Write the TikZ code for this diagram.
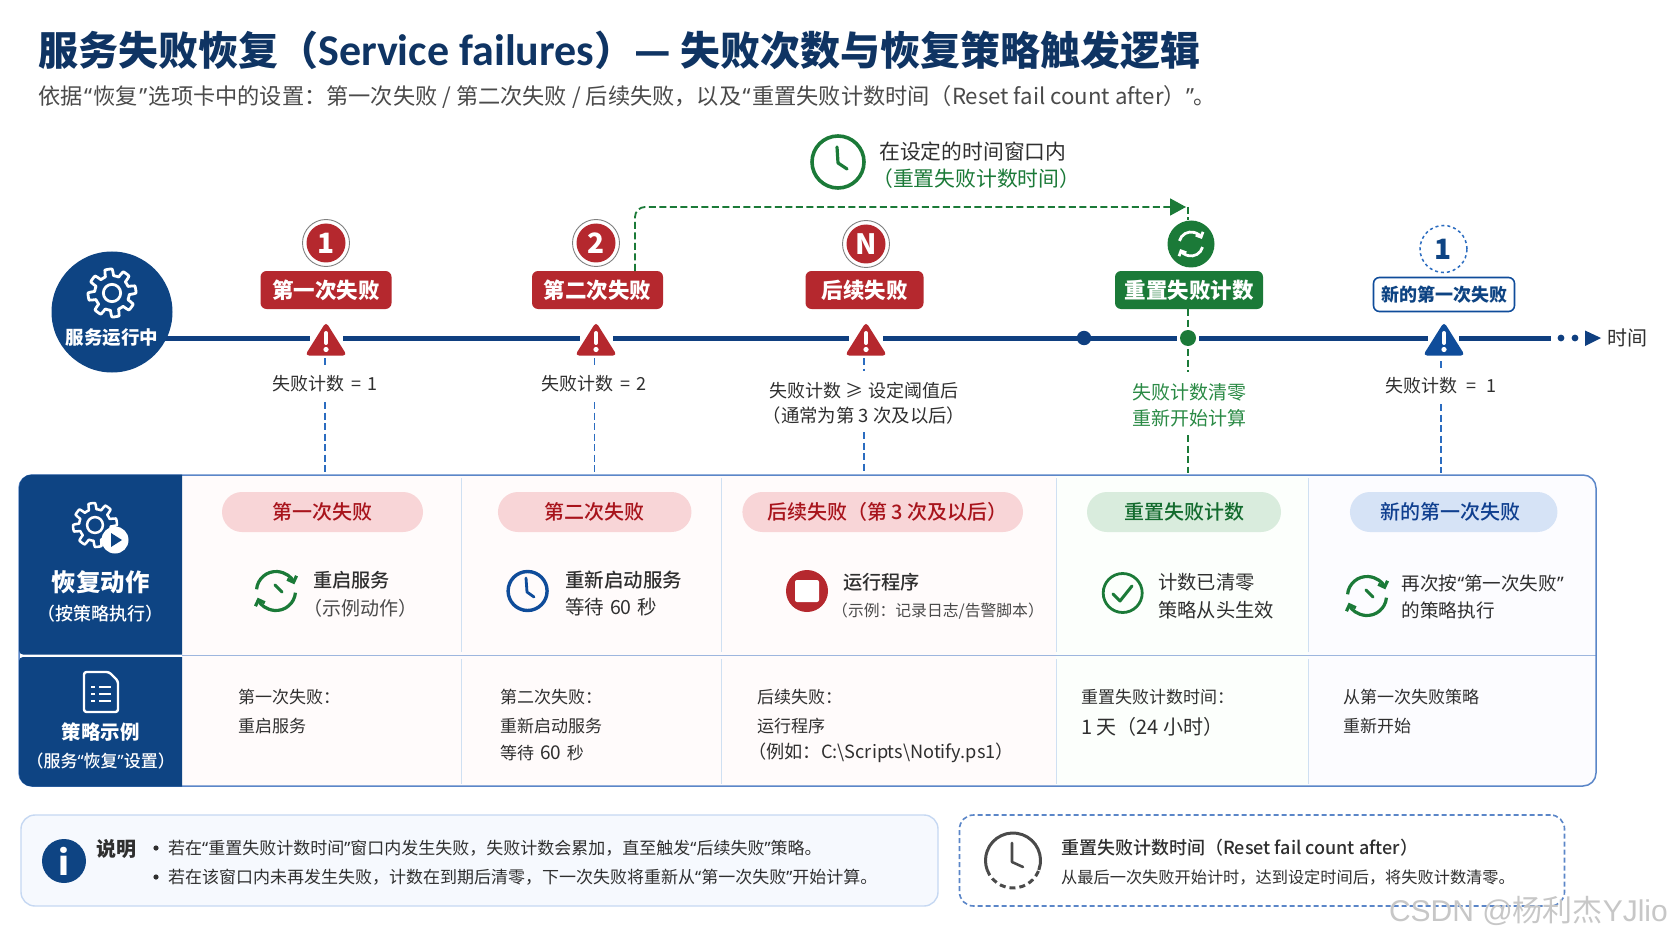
\documentclass[tikz,border=0pt]{standalone}
\usepackage{fontspec}
\setmainfont{Noto Sans CJK SC}
\newfontfamily\medf{Noto Sans CJK SC Medium}
\newfontfamily\qf{Noto Sans}
\newfontfamily\wmf{Liberation Sans}
\newfontfamily\crl{Carlito}
\usetikzlibrary{arrows.meta,calc}
\definecolor{navy}{HTML}{0E4483}
\definecolor{titlec}{HTML}{0F3463}
\definecolor{tlc}{HTML}{0F3F80}
\definecolor{redc}{HTML}{B5282E}
\definecolor{grn}{HTML}{1B7A38}
\definecolor{grnt}{HTML}{2A8A45}
\definecolor{blu}{HTML}{0F4C9A}
\definecolor{dashc}{HTML}{2B6CC0}
\definecolor{ink}{HTML}{2F2F2F}
\definecolor{soft}{HTML}{4A4A4A}
\definecolor{sepc}{HTML}{CFE0F2}
\definecolor{bord}{HTML}{5B86C8}
\definecolor{noteb}{HTML}{C6D8F2}
\definecolor{notef}{HTML}{F6F9FE}
\definecolor{pillr}{HTML}{F8D5D7}
\definecolor{pillg}{HTML}{D9ECDD}
\definecolor{pillb}{HTML}{D6E3F6}
\definecolor{pilltr}{HTML}{A8141C}
\definecolor{pilltg}{HTML}{136B2E}
\definecolor{pilltb}{HTML}{0F3F8F}
\newcommand\fz[1]{\fontsize{#1}{#1}\selectfont}
\newcommand\qa{{\qf “}}
\newcommand\qb{{\qf ”}}
\tikzset{
  tw/.style={anchor=west,inner sep=0pt,text=ink},
  tc/.style={anchor=center,inner sep=0pt,text=ink},
  tl/.style={line width=5pt,tlc},
  vdash/.style={line width=1.6pt,dashc,dash pattern=on 7pt off 3.5pt},
  gdash/.style={line width=1.8pt,grn,dash pattern=on 7pt off 3.5pt},
  numc/.style={circle,fill=redc,minimum size=39pt,inner sep=0pt,text=white,font=\fz{28}\bfseries},
  evbox/.style={rounded corners=6pt,fill=redc,minimum height=38pt,inner sep=0pt,text=white,font=\fz{21.5}\bfseries},
  pill/.style={rounded corners=20pt,minimum height=40pt,inner sep=0pt,font=\fz{20}\medf},
  sep/.style={line width=1pt,sepc},
}
\newcommand\warn[3]{% x, apex y, colour
  \fill[#3,rounded corners=4pt] (#1,-#2-2) -- (#1+21,-355.5) -- (#1-21,-355.5) -- cycle;
  \draw[white,line width=4pt,line cap=round] (#1,-333) -- (#1,-343);
  \fill[white] (#1,-349.5) circle[radius=2.6];
}
\newcommand\gear[5]{% x,y,r,lw,colour
  \draw[#5,line width=#4,line join=round] plot[domain=0:360,samples=289,variable=\t]
   ({#1+#3*(0.86+0.14*max(min(3*sin(8*\t+22.5*8/8),1),-1))*cos(\t)},{#2+#3*(0.86+0.14*max(min(3*sin(8*\t+22.5*8/8),1),-1))*sin(\t)}) -- cycle;
  \draw[#5,line width=#4] (#1,#2) circle[radius=0.36*#3];
}
\newcommand\syncicon[4]{% x,y,r,colour
  \draw[#4,line width=3.2pt,-{Straight Barb[length=5pt,width=10pt]}] ($(#1,#2)+(175:#3)$) arc[start angle=175,end angle=20,radius=#3];
  \draw[#4,line width=3.2pt,-{Straight Barb[length=5pt,width=10pt]}] ($(#1,#2)+(-5:#3)$) arc[start angle=-5,end angle=-160,radius=#3];
}
\begin{document}
\begin{tikzpicture}[x=1pt,y=1pt]
\useasboundingbox (0,0) rectangle (1672,-941);
\fill[white] (0,0) rectangle (1672,-941);
% title
\node[tw,text=titlec,font=\fz{40}\bfseries] (title) at (38,-50) {服务失败恢复（{\fz{44}\crl Service failures}）— 失败次数与恢复策略触发逻辑};
\node[tw,text=soft,font=\fz{22.2}] (sub) at (38,-97) {依据\kern1.5pt\qa\kern1.5pt 恢复\kern1.5pt\qb\kern1.5pt 选项卡中的设置：第一次失败 / 第二次失败 / 后续失败，以及\kern1.5pt\qa\kern1.5pt 重置失败计数时间（Reset fail count after）\qb 。};
% top clock
\node[circle,draw=grn,line width=3.6pt,minimum size=52pt,inner sep=0pt] (topclock) at (838,-162) {};
\draw[grn,line width=3.2pt,line cap=round,line join=round] (837,-147) -- (838,-163) -- (847,-169);
\node[tw,font=\fz{20.8}] (wintxt) at (879,-152) {在设定的时间窗口内};
\node[tw,text=grn,font=\fz{20.8}] (wintxt2) at (872,-179) {（重置失败计数时间）};
% timeline coordinates
\coordinate (a0) at (165,-338); \coordinate (a1) at (310,-338);
\coordinate (b0) at (343,-338); \coordinate (b1) at (580,-338);
\coordinate (c0) at (613,-338); \coordinate (c1) at (849,-338);
\coordinate (d0) at (883,-338); \coordinate (d1) at (1177,-338);
\coordinate (e0) at (1199,-338); \coordinate (e1) at (1428,-338);
\coordinate (f0) at (1459,-338); \coordinate (f1) at (1551,-338);
\draw[tl] (a0)--(a1); \draw[tl] (b0)--(b1); \draw[tl] (c0)--(c1); \draw[tl] (d0)--(d1); \draw[tl] (e0)--(e1); \draw[tl] (f0)--(f1);
\fill[tlc] (1084,-338) circle[radius=7.2];
\fill[grn] (1188,-338) circle[radius=8];
\fill[tlc] (1561,-338) circle[radius=3.4];
\fill[tlc] (1575,-338) circle[radius=3.4];
\fill[tlc] (1585,-330.5) -- (1601,-338) -- (1585,-346) -- cycle;
\node[tw,font=\fz{20}] (timetxt) at (1607,-338) {时间};
% service node
\node[circle,fill=navy,minimum size=121pt,inner sep=0pt] (svc) at (112,-312) {};
\gear{112}{-293}{24}{2.8pt}{white}
\node[tc,text=white,font=\fz{18.5}\bfseries] (svctxt) at (112,-338) {服务运行中};
% event numbers
\node[numc] (n1) at (326,-243) {1}; \draw[gray,line width=.9pt] (n1.center) circle[radius=23.5];
\node[numc] (n2) at (596,-243) {2}; \draw[gray,line width=.9pt] (n2.center) circle[radius=23.5];
\node[numc] (n3) at (866,-244) {N}; \draw[gray,line width=.9pt] (n3.center) circle[radius=23.5];
\node[circle,fill=grn,minimum size=47pt,inner sep=0pt] (n4) at (1191,-244) {};
\draw[white,line width=2.8pt,-{Straight Barb[length=4pt,width=8pt]}] ($(n4.center)+(165:12)$) arc[start angle=165,end angle=25,radius=12];
\draw[white,line width=2.8pt,-{Straight Barb[length=4pt,width=8pt]}] ($(n4.center)+(-15:12)$) arc[start angle=-15,end angle=-155,radius=12];
\node[circle,draw=dashc,dashed,line width=1.5pt,minimum size=47pt,inner sep=0pt,text=navy,font=\fz{28}\bfseries] (n5) at (1443.5,-249) {1};
% event boxes
\node[evbox,minimum width=131pt] (lb1) at (326,-290) {第一次失败};
\node[evbox,minimum width=131pt] (lb2) at (597.5,-290) {第二次失败};
\node[evbox,minimum width=118pt] (lb3) at (864.5,-290) {后续失败};
\node[evbox,minimum width=148pt,fill=grn] (lb4) at (1189,-290) {重置失败计数};
\node[rounded corners=6pt,fill=white,draw=blu,line width=1.6pt,minimum width=141pt,minimum height=34pt,inner sep=0pt,text=navy,font=\fz{18}\bfseries] (lb5) at (1444,-294.5) {新的第一次失败};
% warnings
\warn{326}{320}{redc}
\warn{596}{320}{redc}
\warn{866}{320}{redc}
\warn{1444}{320}{blu}
% counter labels
\node[tc,font=\fz{18}] (cnt1) at (325,-384) {失败计数\kern2pt{} = \kern2pt{}1};
\node[tc,font=\fz{18}] (cnt2) at (594,-384) {失败计数\kern2pt{} = \kern2pt{}2};
\node[tc,font=\fz{18}] (cnt3a) at (864,-391) {失败计数 ≥ 设定阈值后};
\node[tc,font=\fz{18.4}] (cnt3b) at (864,-416) {（通常为第 3 次及以后）};
\node[tc,text=grnt,font=\fz{19}] (cnt4a) at (1189,-392) {失败计数清零};
\node[tc,text=grnt,font=\fz{19}] (cnt4b) at (1189,-418) {重新开始计算};
\node[tc,font=\fz{18}] (cnt5) at (1441,-386) {失败计数\ \ =\ \ \kern2pt{}1};
% dashed links
\coordinate (v1a) at (325,-358); \coordinate (v1b) at (325,-367); \coordinate (v1c) at (325,-402); \coordinate (v1d) at (325,-473);
\coordinate (v2a) at (594.5,-358); \coordinate (v2b) at (594.5,-367); \coordinate (v2c) at (594.5,-402); \coordinate (v2d) at (594.5,-473);
\coordinate (v3a) at (864,-358); \coordinate (v3b) at (864,-371); \coordinate (v3c) at (864,-432); \coordinate (v3d) at (864,-473);
\coordinate (v5a) at (1441,-361); \coordinate (v5b) at (1441,-368); \coordinate (v5c) at (1441,-404); \coordinate (v5d) at (1441,-473);
\draw[vdash] (v1a)--(v1b); \draw[vdash] (v1c)--(v1d);
\draw[vdash] (v2a)--(v2b); \draw[vdash] (v2c)--(v2d);
\draw[vdash] (v3a)--(v3b); \draw[vdash] (v3c)--(v3d);
\draw[vdash] (v5a)--(v5b); \draw[vdash] (v5c)--(v5d);
\coordinate (g1) at (1188,-309); \coordinate (g2) at (1188,-330); \coordinate (g3) at (1188,-349); \coordinate (g4) at (1188,-372); \coordinate (g5) at (1188,-435); \coordinate (g6) at (1188,-473);
\coordinate (g7) at (1188,-207); \coordinate (g8) at (1188,-220);
\draw[gdash] (g1)--(g2); \draw[gdash] (g3)--(g4); \draw[gdash] (g5)--(g6); \draw[gdash] (g7)--(g8);
\coordinate (gs) at (635,-271); \coordinate (ge) at (1186,-207);
\draw[gdash,rounded corners=10pt,-{Triangle[length=16pt,width=17pt]}] (gs) |- (ge);
% table
\begin{scope}
\clip[rounded corners=13pt] (19,-475) rectangle (1596,-786);
\fill[white] (19,-475) rectangle (1596,-786);
\fill[red!1.5] (182,-475) rectangle (1056,-786);
\fill[green!1] (1056,-475) rectangle (1308,-786);
\fill[blue!1.2] (1308,-475) rectangle (1596,-786);
\end{scope}
\draw[sep] (461.7,-478)--(461.7,-652); \draw[sep] (461.7,-659)--(461.7,-784);
\draw[sep] (721.5,-478)--(721.5,-652); \draw[sep] (721.5,-659)--(721.5,-784);
\draw[sep] (1056,-478)--(1056,-652); \draw[sep] (1056,-659)--(1056,-784);
\draw[sep] (1308,-478)--(1308,-652); \draw[sep] (1308,-659)--(1308,-784);
\draw[line width=1.4pt,bord!60] (182,-655.7)--(1596,-655.7);
\draw[line width=1.5pt,bord,rounded corners=13pt] (19,-475) rectangle (1596,-786);
\fill[navy] (182,-474.5) [rounded corners=13pt] -- (19,-474.5) [rounded corners=4pt] -- (19,-654.5) [sharp corners] -- (182,-654.5) -- cycle;
\fill[navy] (182,-657) [rounded corners=4pt] -- (19,-657) [rounded corners=13pt] -- (19,-786.5) [sharp corners] -- (182,-786.5) -- cycle;
% left column
\gear{95}{-525}{22}{2.5pt}{white}
\node[circle,fill=white,minimum size=27pt,inner sep=0pt] (play) at (115,-540) {};
\fill[navy] (111,-547) -- (122,-540) -- (111,-533) -- cycle;
\node[tc,text=white,font=\fz{24.4}\bfseries] (l1a) at (100.7,-582) {恢复动作};
\node[tc,text=white,font=\fz{18}\medf] (l1b) at (100.7,-614) {（按策略执行）};
\draw[white,line width=2.4pt,line join=round,rounded corners=2.5pt] (84,-672) -- (109,-672) -- (118,-681) -- (118,-712) -- (84,-712) -- cycle;
\foreach \yy in {-687,-694,-701}{\draw[white,line width=2pt] (91,\yy) -- (95,\yy); \draw[white,line width=2pt] (99,\yy) -- (111,\yy);}
\node[tc,text=white,font=\fz{19.4}\bfseries] (l2a) at (100.7,-732) {策略示例};
\node[tc,text=white,font=\fz{17}\medf] (l2b) at (100.7,-761) {（服务\qa 恢复\qb 设置）};
% pills
\node[pill,fill=pillr,text=pilltr,minimum width=201pt] (p1) at (322.5,-512) {第一次失败};
\node[pill,fill=pillr,text=pilltr,minimum width=193.5pt] (p2) at (594.7,-512) {第二次失败};
\node[pill,fill=pillr,text=pilltr,minimum width=280.6pt] (p3) at (882.7,-512) {\kern10pt 后续失败（第 3 次及以后）};
\node[pill,fill=pillg,text=pilltg,minimum width=194pt] (p4) at (1184,-512) {重置失败计数};
\node[pill,fill=pillb,text=pilltb,minimum width=207.5pt] (p5) at (1453.7,-512) {新的第一次失败\kern6pt};
% row 1 icons + text
\syncicon{276}{-591}{19.5}{grn}
\draw[grn,line width=3pt,line cap=round] (275,-585) -- (282,-592);
\node[tw,font=\fz{19.2}\medf,text=ink] (r1a) at (313,-580) {重启服务};
\node[tw,font=\fz{19},text=soft] (r1b) at (303,-608) {（示例动作）};
\node[circle,draw=blu,line width=3.4pt,minimum size=39pt,inner sep=0pt] (ic2) at (527.6,-591) {};
\draw[blu,line width=2.8pt,line cap=round,line join=round] (526,-578) -- (527,-592) -- (534,-597);
\node[tw,font=\fz{19.5}\medf] (r2a) at (565,-580) {重新启动服务};
\node[tw,font=\fz{19.5}] (r2b) at (565,-607) {等待\kern1.5pt{} 60\kern1.5pt{} 秒};
\node[circle,fill=redc,minimum size=42pt,inner sep=0pt] (ic3) at (807,-591) {};
\fill[white,rounded corners=2pt] (795,-580) rectangle (819,-602);
\node[tw,font=\fz{19.2}\medf] (r3a) at (843,-582) {运行程序};
\node[tw,font=\fz{15.8},text=soft] (r3b) at (832,-611) {（示例：记录日志/告警脚本）};
\node[circle,draw=grn,line width=2.8pt,minimum size=39pt,inner sep=0pt] (ic4) at (1122.7,-593) {};
\draw[grn,line width=3pt,line cap=round,line join=round] (1113,-594) -- (1120,-601) -- (1132,-586);
\node[tw,font=\fz{19.3}] (r4a) at (1158,-582) {计数已清零};
\node[tw,font=\fz{19.3}] (r4b) at (1158,-610) {策略从头生效};
\syncicon{1367}{-596}{19.5}{grn}
\draw[grn,line width=3pt,line cap=round] (1366,-590) -- (1373,-597);
\node[tw,font=\fz{18.6}] (r5a) at (1401.5,-583) {再次按\qa 第一次失败\qb };
\node[tw,font=\fz{18.6}] (r5b) at (1401.5,-610) {的策略执行};
% row 2
\node[tw,font=\fz{17}] (s1a) at (238,-697) {第一次失败：};
\node[tw,font=\fz{17}] (s1b) at (238,-726) {重启服务};
\node[tw,font=\fz{17}] (s2a) at (500,-697) {第二次失败：};
\node[tw,font=\fz{17}] (s2b) at (500,-726) {重新启动服务};
\node[tw,font=\fz{17}] (s2c) at (500,-753) {等待\kern2pt{} {\fz{19}60}\kern2pt{} 秒};
\node[tw,font=\fz{17}] (s3a) at (757,-697) {后续失败：};
\node[tw,font=\fz{17}] (s3b) at (757,-726) {运行程序};
\node[tw,font=\fz{18.2}] (s3c) at (748,-753) {（例如：C:\textbackslash Scripts\textbackslash Notify.ps1）};
\node[tw,font=\fz{17}] (s4a) at (1081,-697) {重置失败计数时间：};
\node[tw,font=\fz{20}] (s4b) at (1081,-727) {1 天（24 小时）};
\node[tw,font=\fz{17}] (s5a) at (1343,-697) {从第一次失败策略};
\node[tw,font=\fz{17}] (s5b) at (1343,-726) {重新开始};
% note box
\node[rounded corners=14pt,fill=notef,draw=noteb,line width=1.4pt,minimum width=917pt,minimum height=91pt,inner sep=0pt] (note) at (479.5,-860.5) {};
\node[circle,fill=navy,minimum size=44pt,inner sep=0pt,text=white,font=\fz{34}\bfseries] (info) at (64,-861) {i};
\node[tw,font=\fz{20}\bfseries] (shuo) at (96,-849) {说明};
\fill[ink] (156,-848) circle[radius=2.6];
\fill[ink] (156,-877) circle[radius=2.6];
\node[tw,font=\fz{17}] (no1) at (168,-848) {若在\qa 重置失败计数时间\qb 窗口内发生失败，失败计数会累加，直至触发\qa 后续失败\qb 策略。};
\node[tw,font=\fz{17}] (no2) at (168,-877) {若在该窗口内未再发生失败，计数在到期后清零，下一次失败将重新从\qa 第一次失败\qb 开始计算。};
% reset box
\node[rounded corners=14pt,draw=bord,dash pattern=on 5pt off 3pt,line width=1.6pt,minimum width=605pt,minimum height=91pt,inner sep=0pt] (rbox) at (1262,-860.5) {};
\draw[soft,line width=3pt] ($(1013,-860.5)+(-20:27.5)$) arc[start angle=-20,end angle=200,radius=27.5];
\draw[soft,line width=3pt,dash pattern=on 6pt off 4pt] ($(1013,-860.5)+(200:27.5)$) arc[start angle=200,end angle=340,radius=27.5];
\draw[soft,line width=2.6pt,line cap=round,line join=round] (1012,-843) -- (1012,-862) -- (1023,-867);
\node[tw,font=\fz{18}\medf] (rt1) at (1061,-848) {重置失败计数时间（Reset fail count after）};
\node[tw,font=\fz{16.2}] (rt2) at (1061,-877) {从最后一次失败开始计时，达到设定时间后，将失败计数清零。};
% watermark
\node[anchor=east,inner sep=0pt,text=black!22,font=\fz{30}\wmf] (wm) at (1668,-911) {CSDN @{\rmfamily 杨利杰}YJlio};
\end{tikzpicture}
\end{document}
